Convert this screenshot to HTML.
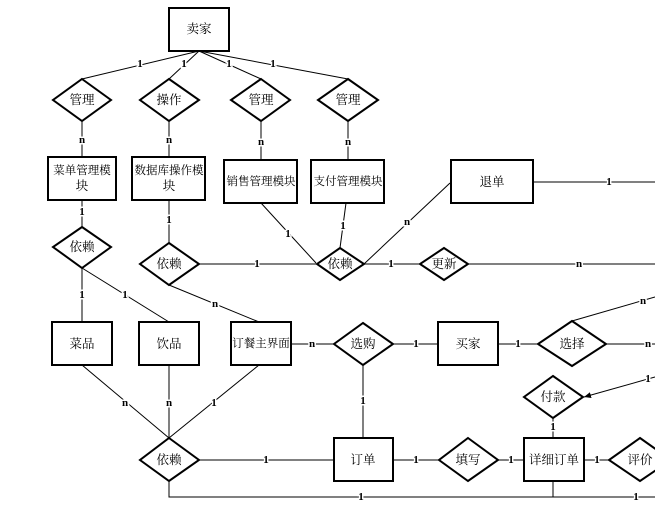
<!DOCTYPE html>
<html><head><meta charset="utf-8"><style>
html,body{margin:0;padding:0;background:#fff;width:655px;height:511px;overflow:hidden}
svg{display:block}
.b{fill:#fff;stroke:#000;stroke-width:2}
.l{stroke:#000;stroke-width:1;fill:none}
.t{font-family:"Liberation Serif","Noto Serif CJK SC",serif;font-size:12.5px;text-anchor:middle;dominant-baseline:central}
.s{font-size:11.5px}
.c{font-family:"Liberation Serif",serif;font-size:11px;font-weight:bold;text-anchor:middle;dominant-baseline:central;stroke:#fff;stroke-width:3;paint-order:stroke;fill:#000}
</style></head><body>
<svg width="655" height="511" viewBox="0 0 655 511" xmlns="http://www.w3.org/2000/svg">
<defs><marker id="a" markerWidth="8" markerHeight="8" refX="7" refY="4" orient="auto"><path d="M0,1 L7,4 L0,7z" fill="#000"/></marker></defs>
<g class="l">
<line x1="199" y1="51" x2="82" y2="79"/><line x1="199" y1="51" x2="169" y2="79"/>
<line x1="199" y1="51" x2="261" y2="79"/><line x1="199" y1="51" x2="348" y2="79"/>
<line x1="82" y1="121" x2="82" y2="157"/><line x1="169" y1="121" x2="169" y2="157"/>
<line x1="261" y1="121" x2="261" y2="160"/><line x1="348" y1="121" x2="348" y2="160"/>
<line x1="82" y1="200" x2="82" y2="227"/><line x1="169" y1="200" x2="169" y2="243"/>
<line x1="533" y1="182" x2="655" y2="182"/>
<line x1="199" y1="264" x2="317" y2="264"/>
<line x1="261" y1="203" x2="316" y2="263"/><line x1="346" y1="203" x2="340" y2="248"/>
<line x1="364" y1="264" x2="450" y2="183"/>
<line x1="364" y1="264" x2="420" y2="264"/><line x1="468" y1="264" x2="655" y2="264"/>
<line x1="82" y1="268" x2="82" y2="322"/><line x1="82" y1="268" x2="169" y2="322"/>
<line x1="169" y1="285" x2="259" y2="322"/>
<line x1="291" y1="344" x2="334" y2="344"/><line x1="393" y1="344" x2="438" y2="344"/>
<line x1="498" y1="344" x2="538" y2="344"/><line x1="606" y1="344" x2="655" y2="344"/>
<line x1="572" y1="321" x2="655" y2="297"/>
<line x1="655" y1="377" x2="584" y2="397" marker-end="url(#a)"/>
<line x1="363" y1="365" x2="363" y2="438"/>
<line x1="393" y1="460" x2="439" y2="460"/><line x1="498" y1="460" x2="524" y2="460"/>
<line x1="553" y1="418" x2="553" y2="438"/><line x1="584" y1="460" x2="609" y2="460"/>
<line x1="82" y1="365" x2="169" y2="438"/><line x1="169" y1="365" x2="169" y2="438"/><line x1="259" y1="365" x2="169" y2="438"/>
<line x1="199" y1="460" x2="334" y2="460"/>
<polyline points="169,481 169,497 655,497"/><line x1="553" y1="481" x2="553" y2="497"/>
</g>
<g class="b">
<rect x="169" y="8" width="60" height="43"/>
<polygon points="82,79 111,100 82,121 53,100"/><polygon points="169,79 199,100 169,121 140,100"/>
<polygon points="261,79 290,100 261,121 231,100"/><polygon points="348,79 378,100 348,121 318,100"/>
<rect x="48" y="157" width="68" height="43"/><rect x="132" y="157" width="73" height="43"/>
<rect x="224" y="160" width="73" height="43"/><rect x="311" y="160" width="73" height="43"/>
<rect x="451" y="160" width="82" height="43"/>
<polygon points="82,227 111,247 82,268 53,247"/><polygon points="169,243 199,264 169,285 140,264"/>
<polygon points="340,248 364,264 340,280 317,264"/><polygon points="444,248 468,264 444,280 420,264"/>
<rect x="52" y="322" width="60" height="43"/><rect x="139" y="322" width="60" height="43"/><rect x="231" y="322" width="60" height="43"/>
<polygon points="363,323 393,344 363,365 334,344"/><rect x="438" y="322" width="60" height="43"/>
<polygon points="572,321 606,344 572,366 538,344"/>
<polygon points="553,376 583,397 553,418 524,397"/>
<polygon points="169,438 199,460 169,481 140,460"/><rect x="334" y="438" width="59" height="43"/>
<polygon points="468,438 498,460 468,481 439,460"/><rect x="524" y="438" width="60" height="43"/>
<polygon points="640,438 671,460 640,481 609,460"/>
</g>
<g class="t">
<text x="199" y="29">卖家</text>
<text x="82" y="100">管理</text><text x="169" y="100">操作</text><text x="261" y="100">管理</text><text x="348" y="100">管理</text>
<text class="s" x="82" y="171">菜单管理模</text><text x="82" y="186">块</text>
<text class="s" x="169" y="171">数据库操作模</text><text x="169" y="186">块</text>
<text class="s" x="261" y="182">销售管理模块</text><text class="s" x="348" y="182">支付管理模块</text><text x="492" y="182">退单</text>
<text x="82" y="247">依赖</text><text x="169" y="264">依赖</text><text x="340" y="264">依赖</text><text x="444" y="264">更新</text>
<text x="82" y="344">菜品</text><text x="169" y="344">饮品</text><text class="s" x="261" y="344">订餐主界面</text>
<text x="363" y="344">选购</text><text x="468" y="344">买家</text><text x="572" y="344">选择</text>
<text x="553" y="397">付款</text><text x="169" y="460">依赖</text><text x="363" y="460">订单</text>
<text x="468" y="460">填写</text><text x="554" y="460">详细订单</text><text x="640" y="460">评价</text>
</g>
<g class="c">
<text x="140" y="64">1</text><text x="184" y="64">1</text><text x="229" y="64">1</text><text x="273" y="64">1</text>
<text x="82" y="140">n</text><text x="169" y="140">n</text><text x="261" y="142">n</text><text x="348" y="142">n</text>
<text x="82" y="212">1</text><text x="169" y="220">1</text><text x="609" y="182">1</text>
<text x="257" y="264">1</text><text x="288" y="234">1</text><text x="343" y="226">1</text><text x="407" y="222">n</text>
<text x="391" y="264">1</text><text x="579" y="264">n</text>
<text x="82" y="295">1</text><text x="125" y="295">1</text><text x="215" y="304">n</text>
<text x="312" y="344">n</text><text x="416" y="344">1</text><text x="518" y="344">1</text><text x="648" y="344">n</text>
<text x="643" y="301">n</text><text x="648" y="379">1</text>
<text x="363" y="401">1</text><text x="125" y="403">n</text><text x="169" y="403">n</text><text x="214" y="403">1</text>
<text x="266" y="460">1</text><text x="416" y="460">1</text><text x="511" y="460">1</text><text x="553" y="427">1</text><text x="597" y="460">1</text>
<text x="361" y="497">1</text><text x="636" y="497">1</text>
</g>
</svg>
</body></html>
